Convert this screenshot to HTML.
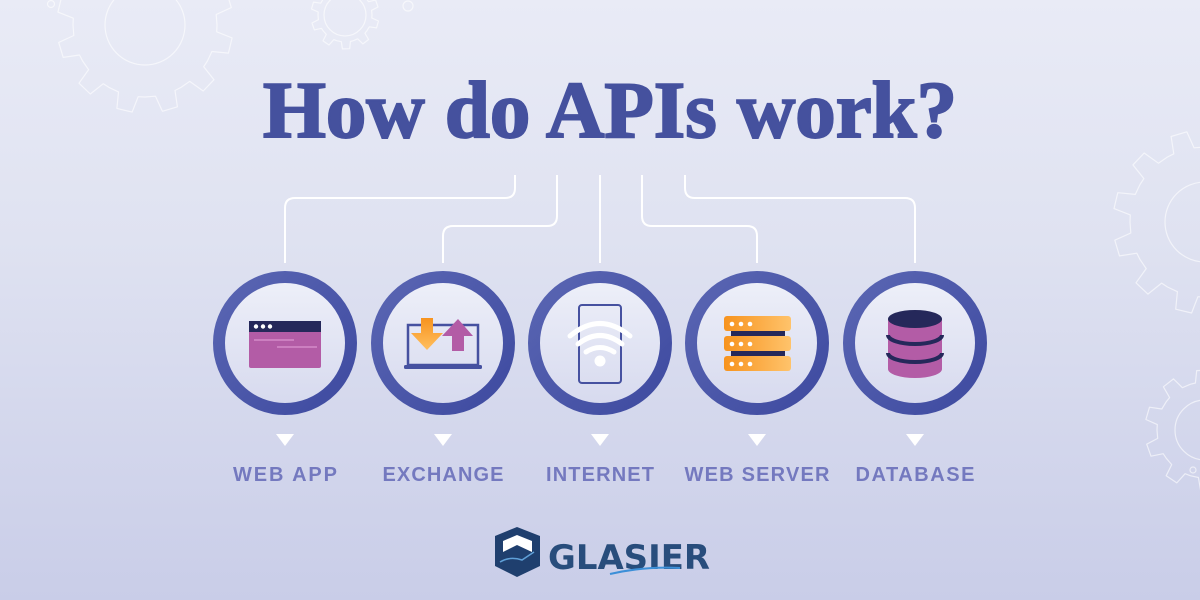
<!DOCTYPE html>
<html><head><meta charset="utf-8"><style>
html,body{margin:0;padding:0;}
body{width:1200px;height:600px;overflow:hidden;background:linear-gradient(180deg,#e9ebf6 0%,#dfe2f1 40%,#c9cde8 100%);}
svg{display:block}
</style></head><body>
<svg id="s" width="1200" height="600" viewBox="0 0 1200 600">
<defs>
<linearGradient id="ring" x1="0" y1="0" x2="1" y2="1"><stop offset="0" stop-color="#5a66b3"/><stop offset="1" stop-color="#3e4aa0"/></linearGradient>
<linearGradient id="inner" x1="0" y1="0" x2="0" y2="1"><stop offset="0" stop-color="#eef0f9"/><stop offset="1" stop-color="#d6d9ee"/></linearGradient>
<linearGradient id="org" x1="0" y1="0" x2="1" y2="0"><stop offset="0" stop-color="#f7931e"/><stop offset="1" stop-color="#ffc36b"/></linearGradient>
<linearGradient id="orgv" x1="0" y1="0" x2="0" y2="1"><stop offset="0" stop-color="#f7931e"/><stop offset="1" stop-color="#ffbf60"/></linearGradient>
</defs>
<g id="gears" fill="none" stroke="#ffffff" stroke-opacity="0.6" stroke-width="1.2"></g>

<text x="610" y="137" text-anchor="middle" font-family="Liberation Serif, serif" font-weight="bold" font-size="80" fill="#45519e" stroke="#45519e" stroke-width="2" textLength="694" lengthAdjust="spacingAndGlyphs">How do APIs work?</text>

<g fill="none" stroke="#ffffff" stroke-width="2">
<path d="M515 175 V188 Q515 198 505 198 H295 Q285 198 285 208 V263"/>
<path d="M557 175 V216 Q557 226 547 226 H453 Q443 226 443 236 V263"/>
<path d="M600 175 V263"/>
<path d="M642 175 V216 Q642 226 652 226 H747 Q757 226 757 236 V263"/>
<path d="M685 175 V188 Q685 198 695 198 H905 Q915 198 915 208 V263"/>
</g>

<g id="circles"></g>

<!-- web app -->
<rect x="249" y="321" width="72" height="47" rx="2" fill="#b35ca6"/>
<rect x="249" y="321" width="72" height="11" fill="#25285a"/>
<circle cx="256" cy="326.5" r="2.2" fill="#fff"/><circle cx="263" cy="326.5" r="2.2" fill="#fff"/><circle cx="270" cy="326.5" r="2.2" fill="#fff"/>
<rect x="254" y="339" width="40" height="2" fill="#cc7fc0"/><rect x="277" y="346" width="40" height="2" fill="#cc7fc0"/>

<!-- exchange -->
<rect x="408" y="325" width="70" height="40" fill="none" stroke="#4651a0" stroke-width="2.5"/>
<rect x="404" y="365" width="78" height="4" rx="1.5" fill="#4651a0"/>
<path d="M421 318 H433 V333 H443 L427 350 L411 333 H421 Z" fill="url(#orgv)"/>
<path d="M452 351 H464 V336 H473 L458 319 L442 336 H452 Z" fill="#b35ca6"/>

<!-- internet -->
<rect x="579" y="305" width="42" height="78" rx="3" fill="none" stroke="#4651a0" stroke-width="2"/>
<g fill="none" stroke="#fff" stroke-width="5" stroke-linecap="round">
<path d="M570 336 Q600 311 630 336"/>
<path d="M578 344 Q600 327 622 344"/>
<path d="M586 352 Q600 343 614 352"/>
</g>
<circle cx="600" cy="361" r="5.5" fill="#fff"/>

<!-- server -->
<g>
<rect x="724" y="316" width="67" height="15" rx="3" fill="url(#org)"/>
<rect x="731" y="331" width="54" height="5" fill="#25285a"/>
<rect x="724" y="336" width="67" height="15" rx="3" fill="url(#org)"/>
<rect x="731" y="351" width="54" height="5" fill="#25285a"/>
<rect x="724" y="356" width="67" height="15" rx="3" fill="url(#org)"/>
<g fill="#fff"><circle cx="732" cy="324" r="2.3"/><circle cx="741" cy="324" r="2.3"/><circle cx="750" cy="324" r="2.3"/>
<circle cx="732" cy="344" r="2.3"/><circle cx="741" cy="344" r="2.3"/><circle cx="750" cy="344" r="2.3"/>
<circle cx="732" cy="364" r="2.3"/><circle cx="741" cy="364" r="2.3"/><circle cx="750" cy="364" r="2.3"/></g>
</g>

<!-- database -->
<path d="M888 319 V369 A27 9 0 0 0 942 369 V319 Z" fill="#b35ca6"/>
<path d="M888 335 A27 9 0 0 0 942 335" fill="none" stroke="#25285a" stroke-width="4"/>
<path d="M888 353 A27 9 0 0 0 942 353" fill="none" stroke="#25285a" stroke-width="4"/>
<ellipse cx="915" cy="319" rx="27" ry="9" fill="#25285a"/>

<g fill="#ffffff">
<path d="M276 434 H294 L285 446 Z"/><path d="M434 434 H452 L443 446 Z"/><path d="M591 434 H609 L600 446 Z"/><path d="M748 434 H766 L757 446 Z"/><path d="M906 434 H924 L915 446 Z"/>
</g>
<g font-family="Liberation Sans, sans-serif" font-weight="bold" font-size="20" fill="#7479bf" text-anchor="middle" lengthAdjust="spacingAndGlyphs">
<text x="285" y="481" textLength="104">WEB APP</text>
<text x="443" y="481" textLength="121">EXCHANGE</text>
<text x="600" y="481" textLength="108">INTERNET</text>
<text x="757" y="481" textLength="145">WEB SERVER</text>
<text x="915" y="481" textLength="119">DATABASE</text>
</g>

<!-- logo -->
<path d="M495 536 L517 527 L540 536 L540 566 L517 577 L495 566 Z" fill="#1f3f6e"/>
<path d="M503 541 L517 535 L532 541 L532 552 L517 545 L503 552 Z" fill="#ffffff"/>
<path d="M500 562 Q510 556 522 560 L534 552" fill="none" stroke="#5fa0d8" stroke-width="1.5"/>
<text x="548" y="569" font-family="DejaVu Sans, sans-serif" font-weight="bold" font-size="34" fill="#284d7c" textLength="162" lengthAdjust="spacingAndGlyphs">GLASIER</text>
<path d="M610 574 Q645 566 680 568" fill="none" stroke="#3c8fd8" stroke-width="2"/>
</svg>
<script>
var ns="http://www.w3.org/2000/svg";
function gear(cx,cy,R,r,n,hole){
 var d="",th=2*Math.PI/n;
 for(var i=0;i<n;i++){
  var a=i*th;
  var pts=[[r,a],[r,a+th*0.18],[R,a+th*0.28],[R,a+th*0.62],[r,a+th*0.72]];
  pts.forEach(function(p,j){var x=cx+p[0]*Math.cos(p[1]),y=cy+p[0]*Math.sin(p[1]);d+=(i==0&&j==0?"M":"L")+x.toFixed(1)+" "+y.toFixed(1)+" ";});
 }
 d+="Z";
 var g=document.getElementById("gears");
 var p=document.createElementNS(ns,"path");p.setAttribute("d",d);p.setAttribute("stroke-linejoin","round");g.appendChild(p);
 var c=document.createElementNS(ns,"circle");c.setAttribute("cx",cx);c.setAttribute("cy",cy);c.setAttribute("r",hole);g.appendChild(c);
}
gear(145,25,88,72,12,40);
gear(345,15,34,27,10,21);
gear(1205,222,92,75,12,40);
gear(1205,430,60,48,10,30);
var g=document.getElementById("gears");
[[51,4,3.5],[408,6,5],[1193,470,3]].forEach(function(a){var c=document.createElementNS(ns,"circle");c.setAttribute("cx",a[0]);c.setAttribute("cy",a[1]);c.setAttribute("r",a[2]);g.appendChild(c);});
var cg=document.getElementById("circles");
[285,443,600,757,915].forEach(function(x){
 var c=document.createElementNS(ns,"circle");c.setAttribute("cx",x);c.setAttribute("cy",343);c.setAttribute("r",66);
 c.setAttribute("fill","url(#inner)");c.setAttribute("stroke","url(#ring)");c.setAttribute("stroke-width","12");cg.appendChild(c);
});
</script>
</body></html>
